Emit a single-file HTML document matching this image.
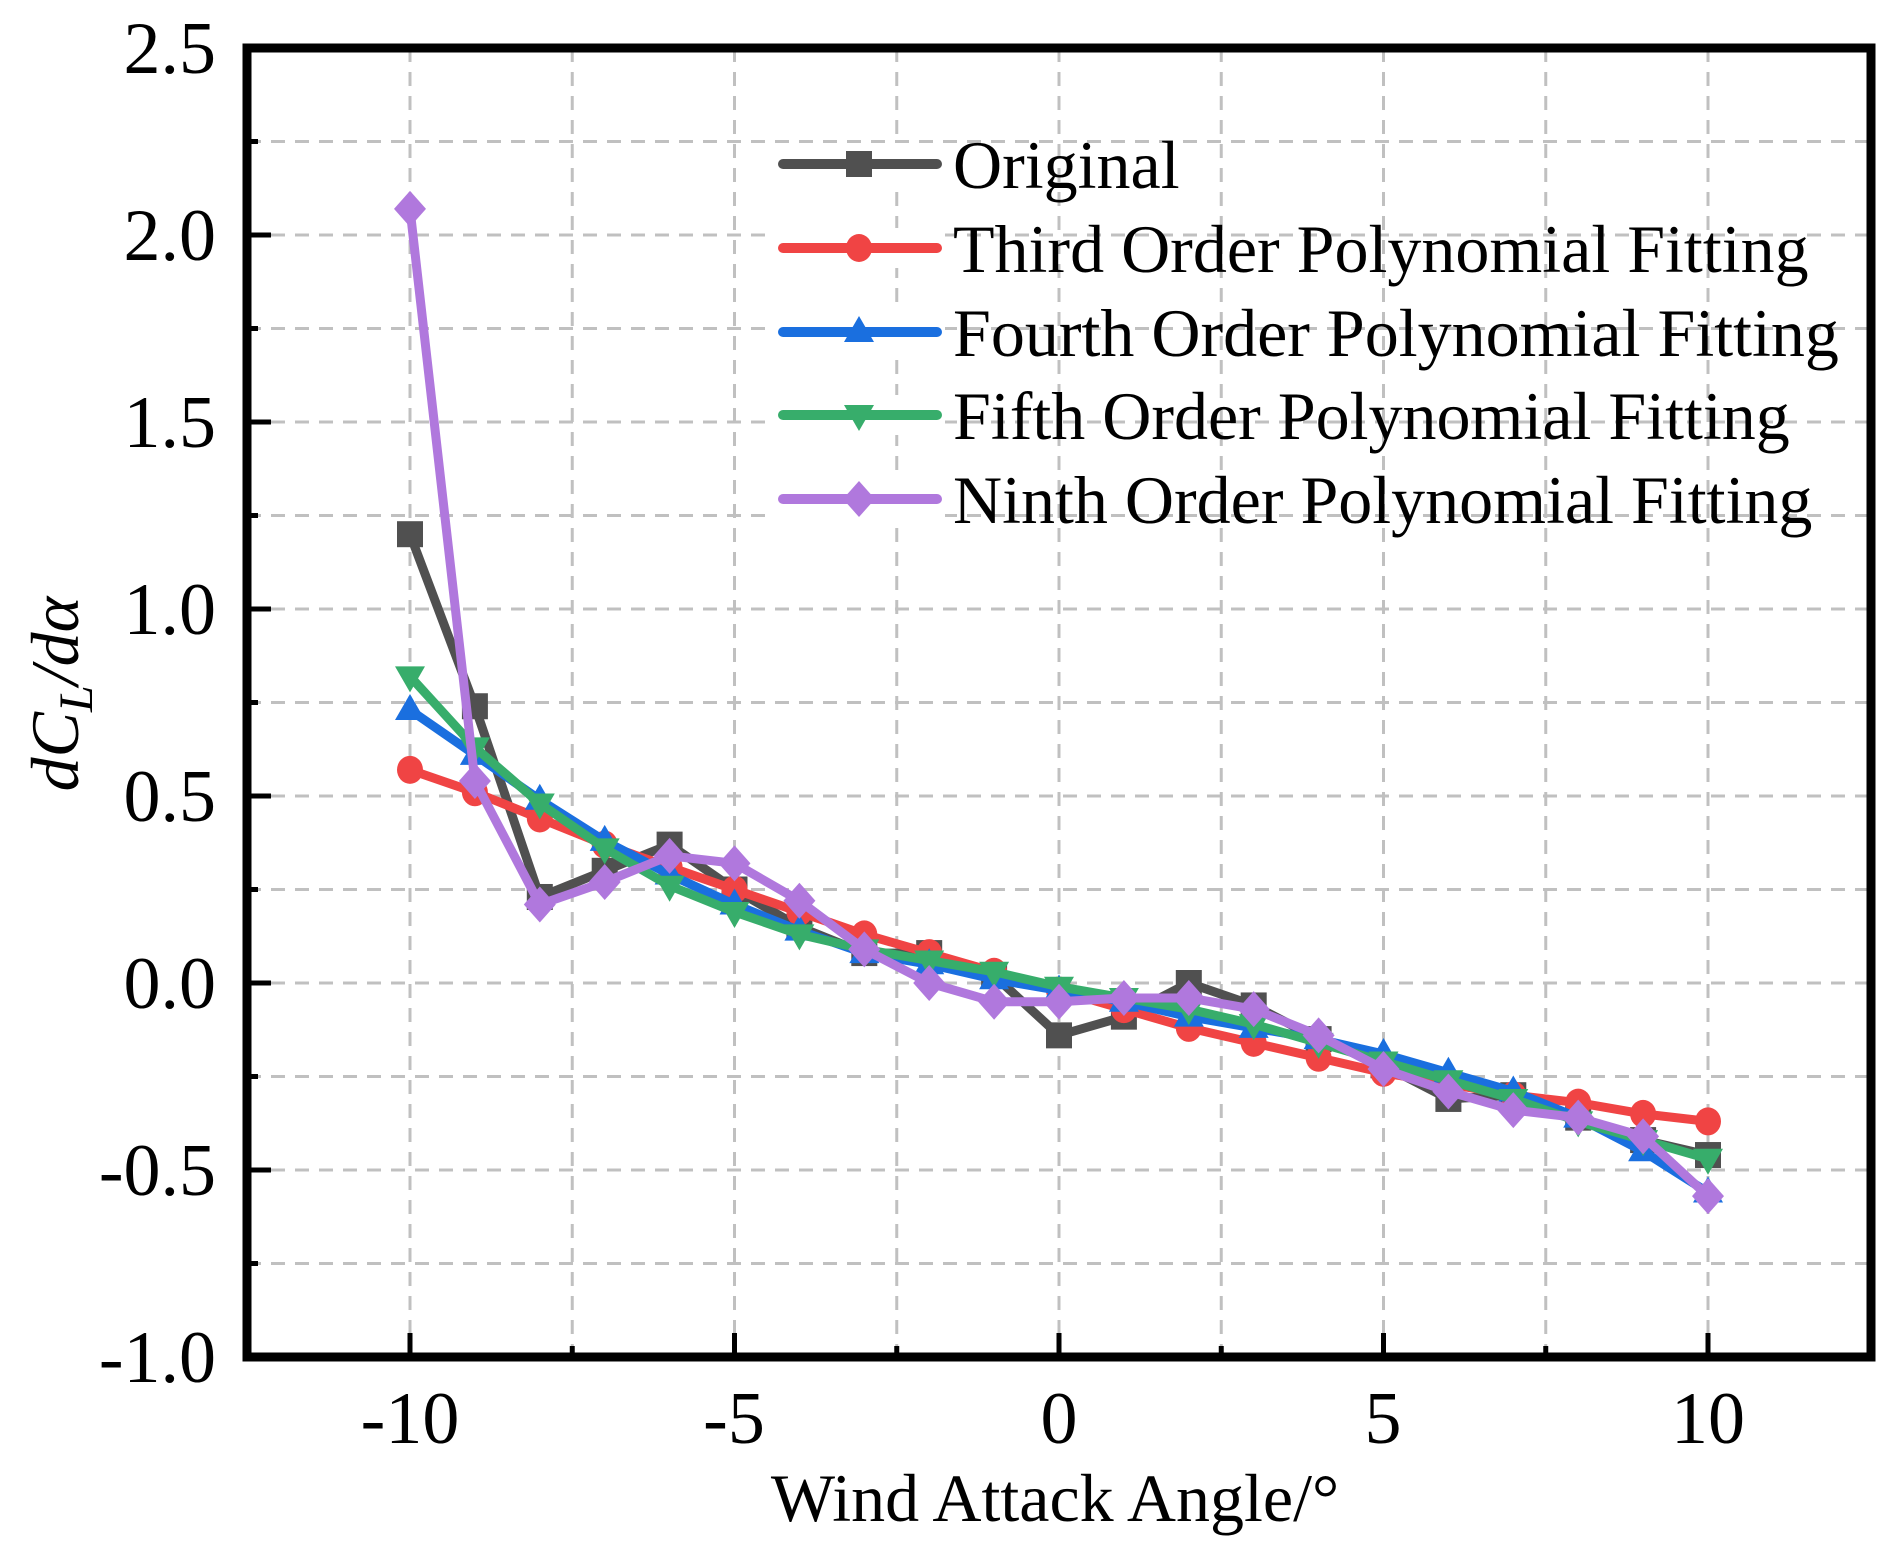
<!DOCTYPE html>
<html><head><meta charset="utf-8">
<style>
html,body{margin:0;padding:0;background:#fff;}
svg{display:block;}
text{font-family:"Liberation Serif",serif;fill:#000;}
</style></head>
<body>
<svg id="s" width="1889" height="1545" viewBox="0 0 1889 1545" xmlns="http://www.w3.org/2000/svg">
<g id="grid"></g>
<g id="series"></g>
<g id="legend">
<text x="953" y="188" font-size="68">Original</text>
<text x="953" y="272" font-size="68">Third Order Polynomial Fitting</text>
<text x="953" y="356" font-size="68">Fourth Order Polynomial Fitting</text>
<text x="953" y="439" font-size="68">Fifth Order Polynomial Fitting</text>
<text x="953" y="523" font-size="68">Ninth Order Polynomial Fitting</text>
</g>
<g id="axes"></g>
<g font-size="74" text-anchor="end">
<text x="216" y="73">2.5</text>
<text x="216" y="260">2.0</text>
<text x="216" y="447">1.5</text>
<text x="216" y="634">1.0</text>
<text x="216" y="821">0.5</text>
<text x="216" y="1008">0.0</text>
<text x="216" y="1195">-0.5</text>
<text x="216" y="1382">-1.0</text>
</g>
<g font-size="74" text-anchor="middle">
<text x="410" y="1443">-10</text>
<text x="734" y="1443">-5</text>
<text x="1059" y="1443">0</text>
<text x="1383" y="1443">5</text>
<text x="1708" y="1443">10</text>
</g>
<text x="1055" y="1521" font-size="68" text-anchor="middle">Wind Attack Angle/°</text>
<text transform="translate(78,694) rotate(-90)" font-size="68" text-anchor="middle" font-style="italic">dC<tspan font-size="48" dy="14">L</tspan><tspan dy="-14">/dα</tspan></text>
</svg>
<script>
const NS="http://www.w3.org/2000/svg";
const L=247,R=1871,T=48,B=1357;
const X=v=>1059+v*64.9, Y=v=>1357-(v+1)*374;
function el(p,t,a){const e=document.createElementNS(NS,t);for(const k in a)e.setAttribute(k,a[k]);document.getElementById(p).appendChild(e);return e;}
for(let v=-10;v<=10;v+=2.5){el("grid","line",{x1:X(v),x2:X(v),y1:T,y2:B,stroke:"#c0c0c0","stroke-width":3,"stroke-dasharray":"14,10"});}
for(let i=1;i<14;i++){const v=-1+i*0.25;el("grid","line",{x1:L,x2:R,y1:Y(v),y2:Y(v),stroke:"#c0c0c0","stroke-width":3,"stroke-dasharray":"14,10"});}
el("axes","rect",{x:L,y:T,width:R-L,height:B-T,fill:"none",stroke:"#000","stroke-width":9});
for(let v=-10;v<=10;v+=2.5){const maj=Number.isInteger(v/5);el("axes","line",{x1:X(v),x2:X(v),y1:B,y2:B-(maj?24:11),stroke:"#000","stroke-width":5});}
for(let i=1;i<14;i++){const v=-1+i*0.25;const maj=Math.abs(v*2-Math.round(v*2))<1e-6;el("axes","line",{x1:L,x2:L+(maj?24:11),y1:Y(v),y2:Y(v),stroke:"#000","stroke-width":5});}
const xs=[];for(let i=-10;i<=10;i++)xs.push(i);
const S=[
 {c:"#505050",m:"sq",d:[1.20,0.74,0.23,0.30,0.37,0.25,0.15,0.08,0.08,0.02,-0.14,-0.09,0.0,-0.06,-0.15,-0.22,-0.31,-0.30,-0.36,-0.42,-0.46]},
 {c:"#f04444",m:"ci",d:[0.57,0.51,0.44,0.37,0.31,0.25,0.19,0.13,0.08,0.03,-0.02,-0.07,-0.12,-0.16,-0.20,-0.24,-0.27,-0.30,-0.32,-0.35,-0.37]},
 {c:"#1a6fdf",m:"tu",d:[0.73,0.61,0.49,0.38,0.29,0.21,0.14,0.08,0.05,0.01,-0.02,-0.05,-0.09,-0.12,-0.15,-0.19,-0.24,-0.29,-0.36,-0.45,-0.56]},
 {c:"#37ad6b",m:"td",d:[0.82,0.63,0.48,0.36,0.26,0.19,0.13,0.09,0.06,0.03,-0.01,-0.04,-0.07,-0.11,-0.16,-0.21,-0.26,-0.31,-0.37,-0.42,-0.47]},
 {c:"#b078dd",m:"di",d:[2.07,0.54,0.21,0.27,0.34,0.32,0.22,0.09,0.0,-0.05,-0.05,-0.04,-0.04,-0.07,-0.14,-0.23,-0.29,-0.34,-0.36,-0.41,-0.57]}
];
function mk(g,m,x,y,c){
 if(m=="sq")el(g,"rect",{x:x-13,y:y-13,width:26,height:26,fill:c});
 else if(m=="ci")el(g,"ellipse",{cx:x,cy:y,rx:13,ry:14,fill:c});
 else if(m=="tu")el(g,"polygon",{points:`${x},${y-16} ${x-15},${y+10} ${x+15},${y+10}`,fill:c});
 else if(m=="td")el(g,"polygon",{points:`${x},${y+16} ${x-15},${y-10} ${x+15},${y-10}`,fill:c});
 else el(g,"polygon",{points:`${x},${y-18} ${x+16},${y} ${x},${y+18} ${x-16},${y}`,fill:c});
}
S.forEach(s=>{
 el("series","polyline",{points:xs.map((v,i)=>X(v)+","+Y(s.d[i])).join(" "),fill:"none",stroke:s.c,"stroke-width":9,"stroke-linejoin":"round"});
 xs.forEach((v,i)=>mk("series",s.m,X(v),Y(s.d[i]),s.c));
});
const ly=[164,248,332,415,499];
S.forEach((s,i)=>{
 el("grid","rect",{x:775,y:ly[i]-20,width:170,height:40,fill:"#fff"});
 el("legend","line",{x1:783,x2:937,y1:ly[i],y2:ly[i],stroke:s.c,"stroke-width":10,"stroke-linecap":"round"});
 mk("legend",s.m,859,ly[i],s.c);
});
</script>
</body></html>
